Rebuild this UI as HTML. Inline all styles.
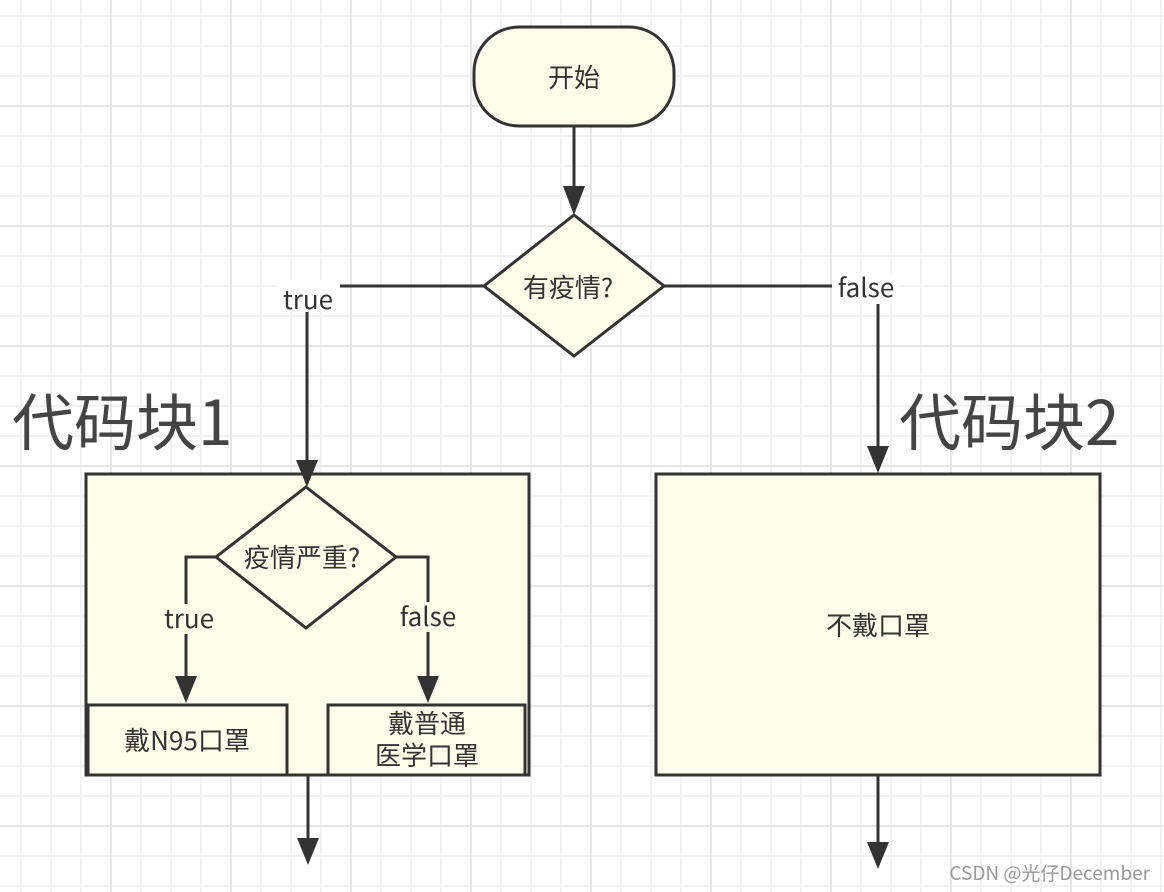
<!DOCTYPE html>
<html><head><meta charset="utf-8"><style>
html,body{margin:0;padding:0;width:1164px;height:892px;overflow:hidden;background:#fff}
.g{position:absolute;left:0;top:0;width:1164px;height:892px;
background-image:
linear-gradient(to right,#e6e6e6 2px,transparent 2px),
linear-gradient(to bottom,#e6e6e6 2px,transparent 2px),
linear-gradient(to right,#f2f2f2 2px,transparent 2px),
linear-gradient(to bottom,#f2f2f2 2px,transparent 2px);
background-size:120px 120px,120px 120px,30px 30px,30px 30px;
background-position:110px 0,0 105px,20px 0,0 15px}
svg{position:absolute;left:0;top:0}
text{font-family:"Noto Sans CJK SC","Liberation Sans",sans-serif;fill:#333}
</style></head><body><div class="g"></div>
<svg width="1164" height="892" viewBox="0 0 1164 892">
<g stroke="#333" stroke-width="3" fill="#fefeeb">
<rect x="474" y="27" width="200" height="99" rx="45"/>
<rect x="86" y="474" width="443" height="301"/>
<rect x="656" y="474" width="444" height="301"/>
<rect x="88" y="705" width="199" height="70"/>
<rect x="328" y="705" width="197" height="70"/>
<polygon points="574,215 664,286 574,356 484,286"/>
<polygon points="306,487 396,557 306,628 216,557"/>
</g>
<g stroke="#333" stroke-width="3" fill="none">
<path d="M574 126 V188"/>
<path d="M484 286 H307 V460"/>
<path d="M664 286 H878 V446"/>
<path d="M216 557 H186 V676"/>
<path d="M396 557 H428 V676"/>
<path d="M308 775 V838"/>
<path d="M878 775 V842"/>
</g>
<g fill="#333">
<path d="M563 186 L585 186 L574 215 z"/>
<path d="M296 460 L318 460 L307 487 z"/>
<path d="M867 446 L889 446 L878 473 z"/>
<path d="M175 676 L197 676 L186 703 z"/>
<path d="M417 676 L439 676 L428 703 z"/>
<path d="M297 838 L319 838 L308 865 z"/>
<path d="M867 842 L889 842 L878 869 z"/>
</g>
<rect x="276" y="280" width="64" height="32" fill="#fff"/>
<rect x="832" y="274" width="68" height="30" fill="#fff"/>
<rect x="156" y="604" width="64" height="30" fill="#fefeeb"/>
<rect x="394" y="602" width="68" height="30" fill="#fefeeb"/>
<g font-size="26" text-anchor="middle">
<text x="574" y="87">开始</text>
<text x="568" y="297">有疫情?</text>
<text x="308" y="309">true</text>
<text x="866" y="297">false</text>
<text x="302" y="567">疫情严重?</text>
<text x="189" y="628">true</text>
<text x="428" y="626">false</text>
<text x="187" y="750">戴N95口罩</text>
<text x="427" y="733">戴普通</text>
<text x="427" y="765">医学口罩</text>
<text x="878" y="635">不戴口罩</text>
</g>
<text x="12" y="445" font-size="62" style="fill:#444">代码块1</text>
<text x="899" y="445" font-size="62" style="fill:#444">代码块2</text>
<text x="1150" y="880" font-size="19" text-anchor="end" style="fill:#999">CSDN @光仔December</text>
</svg>
</body></html>
